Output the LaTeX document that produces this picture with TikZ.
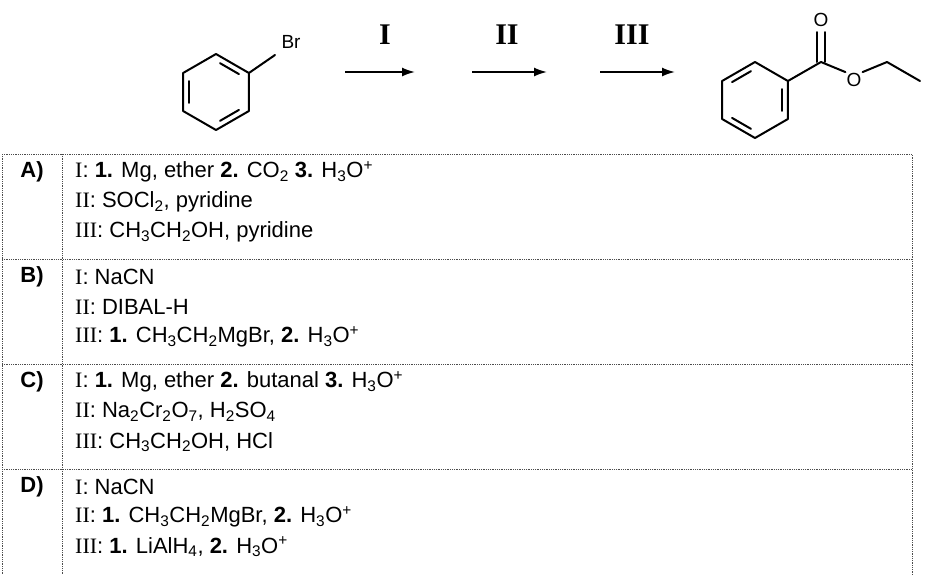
\documentclass[tikz,border=0pt]{standalone}
\usepackage{fontspec}
\setmainfont{Liberation Sans}
\newfontfamily\rmn{Liberation Serif}
\usetikzlibrary{arrows.meta,calc}
\tikzset{x=1pt,y=-1pt,
 bond/.style={line width=2pt,line cap=round,line join=round},
 txt/.style={anchor=west,inner sep=0pt,font=\fontsize{22}{26}\selectfont},
 lab/.style={anchor=center,inner sep=0pt,font=\fontsize{22}{26}\selectfont\bfseries},
 rn/.style={inner sep=0pt,font=\fontsize{30}{34}\selectfont\rmn\bfseries},
 grid/.style={densely dotted,line width=0.8pt,gray!60!black},
 arr/.style={line width=1.8pt,-{Latex[length=13pt,width=9pt]}}}
\newcommand\sbs[1]{\textsubscript{#1}}
\newcommand\sps[1]{\textsuperscript{#1}}
\newcommand\R[1]{{\rmn #1}}
\begin{document}
\begin{tikzpicture}
\useasboundingbox (0,0) rectangle (930,574);
% bromobenzene
\foreach \i in {0,...,5}{\coordinate (b\i) at ({216+38*cos(90-60*\i)},{92-38*sin(90-60*\i)});}
\coordinate (bc) at (216,92);
\draw[bond] (b0)--(b1)--(b2)--(b3)--(b4)--(b5)--cycle;
\draw[bond] ($(b0)!0.15!(b1)!0.18!(bc)$) -- ($(b1)!0.15!(b0)!0.18!(bc)$);
\draw[bond] ($(b2)!0.15!(b3)!0.18!(bc)$) -- ($(b3)!0.15!(b2)!0.18!(bc)$);
\draw[bond] ($(b4)!0.15!(b5)!0.18!(bc)$) -- ($(b5)!0.15!(b4)!0.18!(bc)$);
\node[inner sep=0pt,font=\fontsize{19}{22}\selectfont] (br) at (291,42) {Br};
\draw[bond] (b1) -- (275,55);
% arrows
\node[rn] (l1) at (385,35) {I};
\node[rn] (l2) at (507,35) {II};
\node[rn] (l3) at (632,35) {III};
\coordinate (a1s) at (345,72); \coordinate (a1e) at (415,72);
\coordinate (a2s) at (472,72); \coordinate (a2e) at (547,72);
\coordinate (a3s) at (600,72); \coordinate (a3e) at (675,72);
\draw[arr] (a1s)--(a1e); \draw[arr] (a2s)--(a2e); \draw[arr] (a3s)--(a3e);
% ethyl benzoate
\foreach \i in {0,...,5}{\coordinate (p\i) at ({755+38*cos(90-60*\i)},{100-38*sin(90-60*\i)});}
\draw[bond] (p0)--(p1)--(p2)--(p3)--(p4)--(p5)--cycle;
\coordinate (pc) at (755,100);
\draw[bond] ($(p1)!0.15!(p2)!0.18!(pc)$) -- ($(p2)!0.15!(p1)!0.18!(pc)$);
\draw[bond] ($(p3)!0.15!(p4)!0.18!(pc)$) -- ($(p4)!0.15!(p3)!0.18!(pc)$);
\draw[bond] ($(p5)!0.15!(p0)!0.18!(pc)$) -- ($(p0)!0.15!(p5)!0.18!(pc)$);
\coordinate (cc) at (821,62);
\node[inner sep=1pt,font=\fontsize{19}{22}\selectfont] (o1) at (821,20) {O};
\node[inner sep=1pt,font=\fontsize{19}{22}\selectfont] (o2) at (854,80) {O};
\coordinate (ch2) at (887,62); \coordinate (ch3) at (920,81);
\draw[bond] (p1)--(cc)--(o2.north west);
\draw[bond] (o2.north east)--(ch2)--(ch3);
\draw[bond] (817,62)--(817,32); \draw[bond] (825,62)--(825,32);
% table
\draw[grid] (2,154) rectangle (912,580);
\foreach \y in {259,364,469}{\draw[grid] (2,\y)--(912,\y);}
\draw[grid] (62,154)--(62,580);
\node[lab] (A) at (32,172) {A)};
\node[lab] (B) at (32,277) {B)};
\node[lab] (C) at (32,382) {C)};
\node[lab] (D) at (32,487) {D)};
\node[txt] (a1) at (75,172) {\R{I}: \textbf{1.} Mg, ether \textbf{2.} CO\sbs{2} \textbf{3.} H\sbs{3}O\sps{+}};
\node[txt] (a2) at (75,202) {\R{II}: SOCl\sbs{2}, pyridine};
\node[txt] (a3) at (75,232) {\R{III}: CH\sbs{3}CH\sbs{2}OH, pyridine};
\node[txt] (b1t) at (75,277) {\R{I}: NaCN};
\node[txt] (b2t) at (75,307) {\R{II}: DIBAL-H};
\node[txt] (b3t) at (75,337) {\R{III}: \textbf{1.} CH\sbs{3}CH\sbs{2}MgBr, \textbf{2.} H\sbs{3}O\sps{+}};
\node[txt] (c1t) at (75,382) {\R{I}: \textbf{1.} Mg, ether \textbf{2.} butanal \textbf{3.} H\sbs{3}O\sps{+}};
\node[txt] (c2t) at (75,412) {\R{II}: Na\sbs{2}Cr\sbs{2}O\sbs{7}, H\sbs{2}SO\sbs{4}};
\node[txt] (c3t) at (75,442) {\R{III}: CH\sbs{3}CH\sbs{2}OH, HCl};
\node[txt] (d1t) at (75,487) {\R{I}: NaCN};
\node[txt] (d2t) at (75,517) {\R{II}: \textbf{1.} CH\sbs{3}CH\sbs{2}MgBr, \textbf{2.} H\sbs{3}O\sps{+}};
\node[txt] (d3t) at (75,547) {\R{III}: \textbf{1.} LiAlH\sbs{4}, \textbf{2.} H\sbs{3}O\sps{+}};
\end{tikzpicture}
\end{document}
